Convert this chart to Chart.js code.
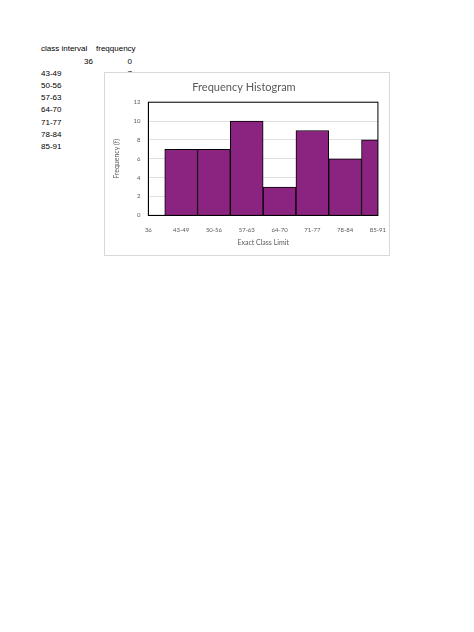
<!DOCTYPE html>
<html>
<head>
<meta charset="utf-8">
<script src="https://cdn.jsdelivr.net/npm/chart.js@4"></script>
<style>
  body { margin: 0; background: #fff; width: 474px; height: 632px; position: relative; font-family: "Liberation Sans", Arial, sans-serif; font-size: 8px; color: #000; }
  .cell { position: absolute; white-space: nowrap; }
  #chartBox { position: absolute; left: 104px; top: 72px; width: 286px; height: 184px; background: #fff; border: 1px solid #d9d9d9; box-sizing: border-box; }
</style>
</head>
<body>
<div id="table"></div>
<div id="chartBox"><canvas id="hist"></canvas></div>
<script>
const categories = ['36', '43-49', '50-56', '57-63', '64-70', '71-77', '78-84', '85-91'];
const frequencies = [0, 7, 7, 10, 3, 9, 6, 8];
const yTicks = [0, 2, 4, 6, 8, 10, 12];

// spreadsheet cells on the left
function addCell(text, left, top, align) {
    const d = document.createElement('div');
    d.className = 'cell';
    d.textContent = text;
    d.style.top = top + 'px';
    if (align === 'right') { d.style.right = (474 - left) + 'px'; } else { d.style.left = left + 'px'; }
    document.getElementById('table').appendChild(d);
}
addCell('class interval', 41, 44);
addCell('freqquency', 96, 44);
categories.forEach((c, i) => {
    const top = 57 + i * 12.1;
    if (i === 0) addCell(c, 93, top, 'right');
    else addCell(c, 41, top);
    if (i < 2) addCell(String(frequencies[i]), 132, top, 'right');
});

const plotBorder = {
    id: 'plotBorder',
    afterDraw(chart) {
        const a = chart.chartArea, ctx = chart.ctx;
        ctx.save();
        ctx.strokeStyle = '#000';
        ctx.lineWidth = 1;
        ctx.strokeRect(a.left, a.top, a.right - a.left, a.bottom - a.top);
        ctx.restore();
    }
};

new Chart(document.getElementById('hist'), {
    type: 'bar',
    data: {
        labels: categories,
        datasets: [{
            data: frequencies,
            backgroundColor: '#8b2381',
            borderColor: '#000',
            borderWidth: 1,
            barPercentage: 1,
            categoryPercentage: 1
        }]
    },
    options: {
        responsive: true,
        maintainAspectRatio: false,
        animation: false,
        layout: { padding: { left: 4, right: 10, top: 0, bottom: 4 } },
        plugins: {
            legend: { display: false },
            tooltip: { enabled: false },
            title: {
                display: true,
                text: 'Frequency Histogram',
                color: '#595959',
                font: { family: 'Lato', size: 11, weight: 'normal' },
                padding: { top: 8, bottom: 8 }
            }
        },
        scales: {
            x: {
                offset: false,
                grid: { display: false },
                border: { color: '#000' },
                ticks: { color: '#595959', font: { family: 'Lato', size: 6 }, maxRotation: 0, autoSkip: false },
                title: { display: true, text: 'Exact Class Limit', color: '#595959', font: { family: 'Lato', size: 7 }, padding: { top: 2 } }
            },
            y: {
                min: 0,
                max: 12,
                afterBuildTicks(scale) { scale.ticks = yTicks.map(v => ({ value: v })); },
                grid: { color: '#e0e0e0', drawTicks: false },
                border: { color: '#000' },
                ticks: { color: '#595959', font: { family: 'Lato', size: 6 }, padding: 8 },
                title: { display: true, text: 'Frequency (f)', color: '#595959', font: { family: 'Lato', size: 7 } }
            }
        }
    },
    plugins: [plotBorder]
});
</script>
</body>
</html>
